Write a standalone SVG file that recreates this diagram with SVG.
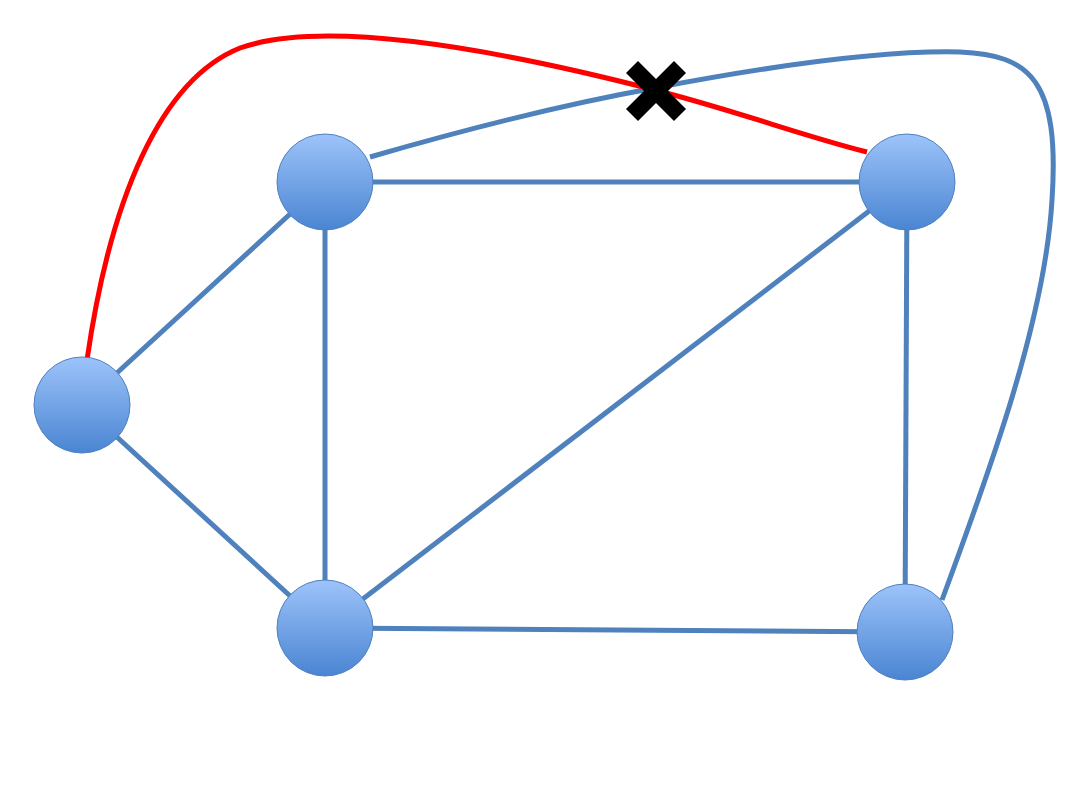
<svg xmlns="http://www.w3.org/2000/svg" width="1080" height="810" viewBox="0 0 1080 810">
<defs>
<linearGradient id="g" x1="0" y1="0" x2="0" y2="1">
<stop offset="0" stop-color="#9dc3fa"/><stop offset="1" stop-color="#4a85d2"/>
</linearGradient>
<style>
.e{stroke:#4f81bd;stroke-width:5;fill:none}
.n{fill:url(#g);stroke:#4f81bd;stroke-width:1}
</style>
</defs>
<rect width="1080" height="810" fill="#fff"/>
<g id="connectors">
<line class="e" x1="325" y1="182" x2="907" y2="182"/>
<line class="e" x1="325" y1="182" x2="325" y2="628"/>
<line class="e" x1="325" y1="182" x2="82" y2="405"/>
<line class="e" x1="82" y1="405" x2="325" y2="628"/>
<line class="e" x1="325" y1="628" x2="905" y2="632"/>
<line class="e" x1="325" y1="628" x2="907" y2="182"/>
<line class="e" x1="907" y1="182" x2="905" y2="632"/>
<path class="e" d="M370,157 C470,128 560,105 655,88 C760,68 880,50 960,52 C1030,55 1060,80 1052,200 C1045,320 990,470 942,600"/>
<path d="M87,360 C110,200 160,80 240,48 C320,20 480,45 655,90 C740,112 800,135 867,152" fill="none" stroke="#ff0000" stroke-width="5"/>
</g>
<g id="cross" stroke="#000" stroke-width="17" stroke-linecap="butt">
<line x1="632" y1="67" x2="680" y2="115"/>
<line x1="680" y1="67" x2="632" y2="115"/>
</g>
<g id="nA"><circle class="n" cx="325" cy="182" r="48"/></g>
<g id="nB"><circle class="n" cx="907" cy="182" r="48"/></g>
<g id="nC"><circle class="n" cx="82" cy="405" r="48"/></g>
<g id="nD"><circle class="n" cx="325" cy="628" r="48"/></g>
<g id="nE"><circle class="n" cx="905" cy="632" r="48"/></g>
</svg>
